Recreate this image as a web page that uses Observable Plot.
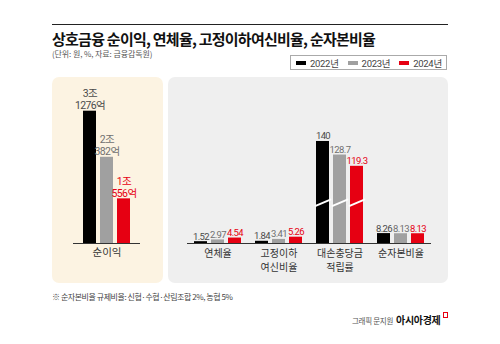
<!DOCTYPE html>
<html>
<head>
<meta charset="utf-8">
<script src="https://cdn.jsdelivr.net/npm/d3@7"></script>
<script src="https://cdn.jsdelivr.net/npm/@observablehq/plot@0.6"></script>
<style>
  html, body { margin: 0; padding: 0; background: #fff; }
  body { width: 500px; height: 344px; position: relative; overflow: hidden; font-family: "Noto Sans CJK KR", "Noto Sans", sans-serif; }
  .abs { position: absolute; }
  #rule { left: 52px; top: 24px; width: 396px; height: 0; border-top: 1.2px solid #222; }
  #title { left: 52px; top: 29px; font-size: 15px; font-weight: 700; letter-spacing: -0.75px; color: #111; white-space: nowrap; line-height: 20px; }
  #subtitle { left: 52px; top: 48px; font-size: 8px; letter-spacing: -0.1px; color: #555; white-space: nowrap; line-height: 12px; }
  #legend { left: 290px; top: 55px; width: 157px; height: 15px; border: 1px solid #aaa; box-sizing: border-box; font-size: 9.5px; color: #444; display: flex; align-items: center; white-space: nowrap; font-family: Roboto, "Noto Sans CJK KR", sans-serif; letter-spacing: -0.3px; }
  #legend .item { display: flex; align-items: center; }
  #legend .sw { width: 10px; height: 4px; margin-right: 4px; }
  #leftPanel { left: 52px; top: 77px; width: 111px; height: 206px; background: #fcf3e2; border-radius: 7px; }
  #rightPanel { left: 168px; top: 77px; width: 280px; height: 206px; background: #efefef; border-radius: 7px; }
  #note { left: 52px; top: 291px; font-size: 8px; letter-spacing: -0.45px; color: #444; white-space: nowrap; line-height: 12px; }
  #credit { left: 352px; top: 310px; white-space: nowrap; line-height: 14px; color: #555; }
  #credit .a { font-size: 7.5px; letter-spacing: -0.3px; }
  #credit .b { font-size: 10px; font-weight: 700; color: #111; letter-spacing: -0.3px; margin-left: 3px; }
  #credit .m { display: inline-block; width: 3px; height: 4px; border: 1px solid #e60012; margin-left: 2px; vertical-align: 6px; }
  svg.chart text.num, svg.chart g.num text { letter-spacing: -0.6px; }
</style>
</head>
<body>
<div id="rule" class="abs"></div>
<div id="title" class="abs"></div>
<div id="subtitle" class="abs"></div>
<div id="legend" class="abs"></div>
<div id="leftPanel" class="abs"></div>
<div id="rightPanel" class="abs"></div>
<div id="note" class="abs"></div>
<div id="credit" class="abs"><span class="a"></span><span class="b"></span><span class="m"></span></div>
<script>
// ---- data ----
const titleText = "상호금융 순이익, 연체율, 고정이하여신비율, 순자본비율";
const subtitleText = "(단위: 원, %, 자료: 금융감독원)";
const noteText = "※ 순자본비율 규제비율: 신협·수협·산림조합 2%, 농협 5%";
const creditName = "그래픽 문지원";
const creditBrand = "아시아경제";

const years = ["2022", "2023", "2024"];
const yearLabels = ["2022년", "2023년", "2024년"];
const barColors = ["#000000", "#a0a0a0", "#e60012"];
const labelColors = ["#4a4a4a", "#707070", "#e60012"];

// 순이익 (억원)
const profitCategory = "순이익";
const profitValues = [31276, 20382, 10556];
const profitLabels = ["3조\n1276억", "2조\n382억", "1조\n556억"];

// 비율 (%)
const ratioCategories = ["연체율", "고정이하\n여신비율", "대손충당금\n적립률", "순자본비율"];
const ratio2022 = [1.52, 1.84, 140, 8.26];
const ratio2023 = [2.97, 3.41, 128.7, 8.13];
const ratio2024 = [4.54, 5.26, 119.3, 8.13];

// broken axis for 대손충당금 적립률
const brokenCategory = "대손충당금\n적립률";
const axisCut = 55;
const breakAt = 34;

// ---- text ----
document.getElementById("title").textContent = titleText;
document.getElementById("subtitle").textContent = subtitleText;
document.getElementById("note").textContent = noteText;
document.querySelector("#credit .a").textContent = creditName;
document.querySelector("#credit .b").textContent = creditBrand;

const legend = document.getElementById("legend");
years.forEach((y, i) => {
  const it = document.createElement("div");
  it.className = "item";
  it.style.marginLeft = i === 0 ? "5px" : "9px";
  const sw = document.createElement("div");
  sw.className = "sw";
  sw.style.background = barColors[i];
  const t = document.createElement("span");
  t.textContent = yearLabels[i];
  it.appendChild(sw); it.appendChild(t);
  legend.appendChild(it);
});

const numFont = "Roboto, 'Noto Sans CJK KR', sans-serif";
const korFont = "'Noto Sans CJK KR', sans-serif";

function markNum(svg) {
  svg.classList.add("chart");
  svg.querySelectorAll("g[aria-label='text'] text").forEach(t => {
    if (/[0-9]/.test(t.textContent)) t.classList.add("num");
  });
}

// ---- left chart ----
const profitRows = years.map((y, i) => ({year: y, value: profitValues[i], label: profitLabels[i]}));
const leftMarks = [];
years.forEach((y, i) => {
  const rows = profitRows.filter(d => d.year === y);
  leftMarks.push(Plot.barY(rows, {x: "year", y: "value", fill: barColors[i]}));
  leftMarks.push(Plot.text(rows, {x: "year", y: "value", text: "label", fill: labelColors[i], lineAnchor: "bottom", dy: -2, fontSize: 10.5, lineHeight: 1.15, fontFamily: numFont}));
});
leftMarks.push(Plot.ruleY([0], {stroke: "#333", strokeWidth: 1}));
leftMarks.push(Plot.text([profitCategory], {x: () => "2023", y: () => 0, text: d => d, lineAnchor: "top", dy: 5, fontSize: 10.5, fill: "#333", fontFamily: korFont}));

const left = Plot.plot({
  width: 111, height: 206,
  marginTop: 0, marginBottom: 40, marginLeft: 21, marginRight: 23,
  x: {domain: years, paddingInner: 0.23, paddingOuter: 0.52, axis: null},
  y: {domain: [0, 39243], axis: null},
  style: {background: "transparent", overflow: "visible"},
  marks: leftMarks
});
markNum(left);
left.style.position = "absolute";
left.style.left = "52px";
left.style.top = "77px";
document.body.appendChild(left);

// ---- right chart ----
const ratioSeries = [ratio2022, ratio2023, ratio2024];
const ratioRows = [];
ratioCategories.forEach((c, j) => {
  years.forEach((y, i) => {
    const v = ratioSeries[i][j];
    ratioRows.push({cat: c, year: y, value: v, shown: c === brokenCategory ? v - axisCut : v, label: String(v)});
  });
});
const breakRows = ratioRows.filter(d => d.cat === brokenCategory).map(d => ({...d, at: breakAt}));

const rightMarks = [];
years.forEach((y, i) => {
  const rows = ratioRows.filter(d => d.year === y);
  rightMarks.push(Plot.barY(rows, {fx: "cat", x: "year", y: "shown", fill: barColors[i]}));
  rightMarks.push(Plot.text(rows, {fx: "cat", x: "year", y: "shown", text: "label", fill: labelColors[i], lineAnchor: "bottom", dy: -2, fontSize: 9.5, fontFamily: numFont}));
});
rightMarks.push(Plot.vector(breakRows, {
  fx: "cat", x: "year", y: "at", length: 16, rotate: 67, anchor: "start",
  stroke: "white", strokeWidth: 2,
  shape: {draw(context, l) { context.moveTo(0, l / 2); context.lineTo(0, -l / 2); }}
}));
rightMarks.push(Plot.ruleY([0], {stroke: "#333", strokeWidth: 1}));
rightMarks.push(Plot.text(ratioCategories, {fx: d => d, frameAnchor: "bottom", text: d => d, lineAnchor: "top", dy: 4, lineHeight: 1.38, fontSize: 10, fill: "#333", fontFamily: korFont}));

const right = Plot.plot({
  width: 280, height: 206,
  marginTop: 0, marginBottom: 40, marginLeft: 14, marginRight: 13,
  fx: {domain: ratioCategories, paddingInner: 0, paddingOuter: 0.05, axis: null},
  x: {domain: years, paddingInner: 0.25, paddingOuter: 0.36, axis: null},
  y: {domain: [0, 138.3], axis: null},
  style: {background: "transparent", overflow: "visible"},
  marks: rightMarks
});
markNum(right);
right.style.position = "absolute";
right.style.left = "168px";
right.style.top = "77px";
document.body.appendChild(right);
</script>
</body>
</html>
